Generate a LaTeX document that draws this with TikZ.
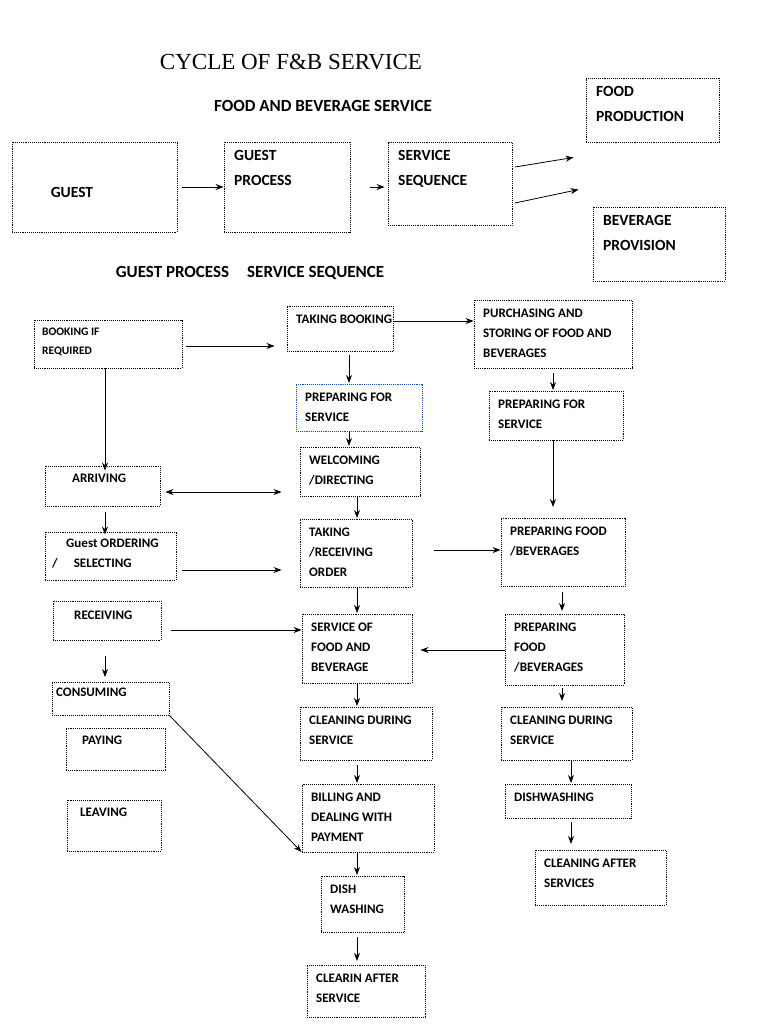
\documentclass[tikz,border=0pt]{standalone}
\usepackage{fontspec}
\setmainfont{Carlito}
\newfontfamily\serifx{Liberation Serif}
\usetikzlibrary{arrows.meta}
\tikzset{
 box/.style={draw,densely dotted,line width=0.9pt,inner sep=0pt},
 txt/.style={anchor=north west,align=left,inner sep=0pt,font=\bfseries\fontsize{13}{20}\selectfont},
 arr/.style={-{Stealth[length=8pt,width=6pt]},line width=0.8pt}
}
\newcommand\bx[7][]{%
 \node[box,#1,minimum width=#4-#2,minimum height=#5-#3] (#6) at ({(#2+#4)/2},{(#3+#5)/2}) {};
 \node[txt] (#6t) at (#2+9,#3+9) {#7};}
\begin{document}
\begin{tikzpicture}[x=1pt,y=-1pt]
\path[use as bounding box] (0,0) rectangle (768,1024);
\node[font=\serifx\fontsize{23}{23}\selectfont] (title) at (291,62) {CYCLE OF F\&B SERVICE};
\node[font=\bfseries\fontsize{17}{17}\selectfont] (fbs) at (323,106) {FOOD AND BEVERAGE SERVICE};
\node[font=\bfseries\fontsize{17}{17}\selectfont] (gpss) at (250,273) {GUEST PROCESS\hspace{18pt}SERVICE SEQUENCE};
\tikzset{big/.style={font=\bfseries\fontsize{15.5}{25}\selectfont}}
\bx{12}{142}{177}{232}{guest}{}
\node[big] (guestt) at (72,192) {GUEST};
\bx{224}{142}{350}{232}{gp}{}
\node[txt,big] at (234,150) {GUEST\\PROCESS};
\bx{388}{142}{512}{225}{ss}{}
\node[txt,big] at (398,150) {SERVICE\\SEQUENCE};
\bx{586}{78}{719}{142}{fp}{}
\node[txt,big] at (596,86) {FOOD\\PRODUCTION};
\bx{593}{207}{725}{281}{bp}{}
\node[txt,big] at (603,215) {BEVERAGE\\PROVISION};
% left column
\bx{34}{320}{182}{368}{book}{}
\node[txt,font=\bfseries\fontsize{11.5}{19}\selectfont] at (42,328) {BOOKING IF\\REQUIRED};
\bx{45}{466}{160}{506}{arr}{}
\node[txt] at (72,474) {ARRIVING};
\bx{45}{532}{176}{580}{ord}{}
\node[txt] at (66,539) {Guest ORDERING\\\hspace{-14pt}/\hspace{16pt}SELECTING};
\bx{53}{601}{161}{640}{rec}{}
\node[txt] at (74,611) {RECEIVING};
\bx{52}{682}{169}{715}{con}{}
\node[txt] at (56,688) {CONSUMING};
\bx{66}{728}{165}{770}{pay}{}
\node[txt] at (82,736) {PAYING};
\bx{67}{800}{161}{851}{lea}{}
\node[txt] at (80,808) {LEAVING};
% middle
\bx{287}{306}{393}{351}{tb}{TAKING BOOKING}
\bx[draw=blue!70!cyan]{296}{384}{422}{431}{ps}{PREPARING FOR\\SERVICE}
\bx{300}{447}{420}{496}{wel}{WELCOMING\\/DIRECTING}
\bx{300}{519}{412}{587}{tro}{TAKING\\/RECEIVING\\ORDER}
\bx{302}{614}{412}{683}{sof}{SERVICE OF\\FOOD AND\\BEVERAGE}
\bx{300}{707}{432}{760}{cds}{CLEANING DURING\\SERVICE}
\bx{302}{784}{434}{852}{bil}{BILLING AND\\DEALING WITH\\PAYMENT}
\bx{321}{876}{404}{932}{dw}{DISH\\WASHING}
\bx{307}{965}{425}{1017}{cla}{CLEARIN AFTER\\SERVICE}
% right
\bx{474}{300}{632}{368}{pur}{PURCHASING AND\\STORING OF FOOD AND\\BEVERAGES}
\bx{489}{391}{623}{440}{ps2}{PREPARING FOR\\SERVICE}
\bx{501}{518}{625}{586}{pf1}{PREPARING FOOD\\/BEVERAGES}
\bx{505}{614}{624}{685}{pf2}{PREPARING\\FOOD\\/BEVERAGES}
\bx{501}{707}{632}{760}{cds2}{CLEANING DURING\\SERVICE}
\bx{505}{784}{631}{818}{dsh}{DISHWASHING}
\bx{535}{850}{666}{905}{cas}{CLEANING AFTER\\SERVICES}
% arrows top
\draw[arr] (guest.east |- 0,187) ++(5,0) -- (gp.west |- 0,187);
\draw[arr] (370,187) -- ([xshift=-3pt]ss.west |- 0,187);
\draw[arr] (515,167) -- ([xshift=-12pt,yshift=-15pt]fp.south west);
\draw[arr] (515,203) -- ([xshift=-14pt,yshift=17pt]bp.north west);
% left
\draw[arr] ([xshift=4pt]book.east |- 0,346) -- ([xshift=-12pt]tb.west |- 0,346);
\draw[arr] (105,368) -- ([yshift=-5pt]arr.north -| 105,0);
\draw[arr] (105,512) -- ([yshift=-3pt]ord.north -| 105,0);
\draw[arr,{Stealth[length=8pt,width=6pt]}-{Stealth[length=8pt,width=6pt]}] ([xshift=5pt]arr.east |- 0,492) -- ([xshift=-18pt]wel.west |- 0,492);
\draw[arr] ([xshift=6pt]ord.east |- 0,570) -- ([xshift=-18pt]tro.west |- 0,570);
\draw[arr] (105,656) -- (105,677);
\draw[arr] ([xshift=10pt]rec.east |- 0,630) -- (sof.west |- 0,630);
\draw[arr] (con.south east) -- ([yshift=-34pt]bil.west);
% middle
\draw[arr] (349,355) -- (349,383);
\draw[arr] (349,431) -- (349,446);
\draw[arr] (357,496) -- (357,518);
\draw[arr] (357,587) -- (357,613);
\draw[arr] (357,683) -- (357,706);
\draw[arr] (357,765) -- (357,783);
\draw[arr] (357,852) -- (357,875);
\draw[arr] (357,937) -- (357,961);
\draw[arr] (tb.east |- 0,321) -- (pur.west |- 0,321);
\draw[arr] ([xshift=22pt]tro.east |- 0,550) -- (pf1.west |- 0,550);
% right
\draw[arr] (553,373) -- (553,390);
\draw[arr] (553,440) -- (553,507);
\draw[arr] (562,592) -- (562,611);
\draw[arr] (pf2.west |- 0,650) -- ([xshift=8pt]sof.east |- 0,650);
\draw[arr] (562,688) -- (562,701);
\draw[arr] (571,760) -- (571,783);
\draw[arr] (571,822) -- (571,844);
\end{tikzpicture}
\end{document}
